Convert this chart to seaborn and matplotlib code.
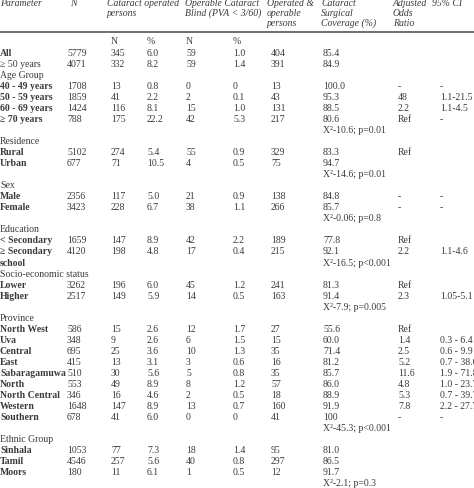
import matplotlib
matplotlib.use("Agg")
import matplotlib.pyplot as plt
import seaborn as sns

sns.set_theme(style="white")
plt.rcParams['font.family'] = ['Liberation Serif', 'DejaVu Serif']

headers = ["Parameter", "N", "Cataract operated\npersons", "Operable Cataract\nBlind (PVA < 3/60)",
           "Operated &\noperable\npersons", "Cataract\nSurgical\nCoverage (%)", "Adjusted\nOdds\nRatio", "95% CI"]
params = ["", "All", "≥ 50 years", "Age Group", "40 - 49 years", "50 - 59 years", "60 - 69 years", "≥ 70 years", "",
          "Residence", "Rural", "Urban", "", "Sex", "Male", "Female", "", "Education", "< Secondary", "≥ Secondary",
          "school", "Socio-economic status", "Lower", "Higher", "", "Province", "North West", "Uva", "Central", "East",
          "Sabaragamuwa", "North", "North Central", "Western", "Southern", "", "Ethnic Group", "Sinhala", "Tamil", "Moors", ""]
bold = [False, True, False, False, True, True, True, True, False, False, True, True, False, False, True, True, False,
        False, True, True, True, False, True, True, False, False] + [True] * 9 + [False, False, True, True, True, False]
n_total = ["", "5779", "4071", "", "1708", "1859", "1424", "788", "", "", "5102", "677", "", "", "2356", "3423", "", "",
           "1659", "4120", "", "", "3262", "2517", "", "", "586", "348", "695", "415", "510", "553", "346", "1648", "678",
           "", "", "1053", "4546", "180", ""]
cat_n = ["N", "345", "332", "", "13", "41", "116", "175", "", "", "274", "71", "", "", "117", "228", "", "", "147", "198",
         "", "", "196", "149", "", "", "15", "9", "25", "13", "30", "49", "16", "147", "41", "", "", "77", "257", "11", ""]
cat_pct = ["%", "6.0", "8.2", "", "0.8", "2.2", "8.1", "22.2", "", "", "5.4", "10.5", "", "", "5.0", "6.7", "", "", "8.9",
           "4.8", "", "", "6.0", "5.9", "", "", "2.6", "2.6", "3.6", "3.1", "5.6", "8.9", "4.6", "8.9", "6.0", "", "",
           "7.3", "5.6", "6.1", ""]
opb_n = ["N", "59", "59", "", "0", "2", "15", "42", "", "", "55", "4", "", "", "21", "38", "", "", "42", "17", "", "",
         "45", "14", "", "", "12", "6", "10", "3", "5", "8", "2", "13", "0", "", "", "18", "40", "1", ""]
opb_pct = ["%", "1.0", "1.4", "", "0", "0.1", "1.0", "5.3", "", "", "0.9", "0.5", "", "", "0.9", "1.1", "", "", "2.2",
           "0.4", "", "", "1.2", "0.5", "", "", "1.7", "1.5", "1.3", "0.6", "0.8", "1.2", "0.5", "0.7", "0", "", "",
           "1.4", "0.8", "0.5", ""]
op_total = ["", "404", "391", "", "13", "43", "131", "217", "", "", "329", "75", "", "", "138", "266", "", "", "189",
            "215", "", "", "241", "163", "", "", "27", "15", "35", "16", "35", "57", "18", "160", "41", "", "", "95",
            "297", "12", ""]
coverage = ["", "85.4", "84.9", "", "100.0", "95.3", "88.5", "80.6", "X²-10.6; p=0.01", "", "83.3", "94.7",
            "X²-14.6; p=0.01", "", "84.8", "85.7", "X²-0.06; p=0.8", "", "77.8", "92.1", "X²-16.5; p<0.001", "", "81.3",
            "91.4", "X²-7.9; p=0.005", "", "55.6", "60.0", "71.4", "81.2", "85.7", "86.0", "88.9", "91.9", "100",
            "X²-45.3; p<0.001", "", "81.0", "86.5", "91.7", "X²-2.1; p=0.3"]
odds = ["", "", "", "", "-", "48", "2.2", "Ref", "", "", "Ref", "", "", "", "-", "-", "", "", "Ref", "2.2", "", "",
        "Ref", "2.3", "", "", "Ref", "1.4", "2.5", "5.2", "11.6", "4.8", "5.3", "7.8", "-", "", "", "", "", "", ""]
ci = ["", "", "", "", "-", "1.1-21.5", "1.1-4.5", "-", "", "", "", "", "", "", "-", "-", "", "", "", "1.1-4.6", "", "",
      "", "1.05-5.1", "", "", "", "0.3 - 6.4", "0.6 - 9.9", "0.7 - 38.6", "1.9 - 71.8", "1.0 - 23.7", "0.7 - 39.7",
      "2.2 - 27.7", "-", "", "", "", "", "", ""]

fig = plt.figure(figsize=(4.74, 4.88), dpi=100)
ax = fig.add_axes([0, 0, 1, 1])
ax.set_xlim(0, 474)
ax.set_ylim(488, 0)
ax.axis("off")
col = "#3a3a3a"
fs = 7.0
hx = [0, 70, 107, 185, 267, 321, 393, 432]
for x, h in zip(hx, headers):
    ax.text(x, -1.5, h, ha="left", va="top", fontsize=fs, style="italic", color=col, linespacing=1.15)
ax.plot([0, 474], [32, 32], color="#555555", lw=1.2)

cols = [(67, n_total), (111, cat_n), (147, cat_pct), (186, opb_n), (233, opb_pct),
        (271, op_total), (323, coverage), (398, odds), (440, ci)]
step = 11.05
for i in range(len(params)):
    y = 42 + i * step
    if params[i]:
        ax.text(0, y, params[i], ha="left", va="center", fontsize=fs, color=col,
                fontweight="bold" if bold[i] else "normal")
    for x, arr in cols:
        if arr[i]:
            ax.text(x, y, arr[i], ha="left", va="center", fontsize=fs, color=col)

fig.savefig("out.png", dpi=100)
